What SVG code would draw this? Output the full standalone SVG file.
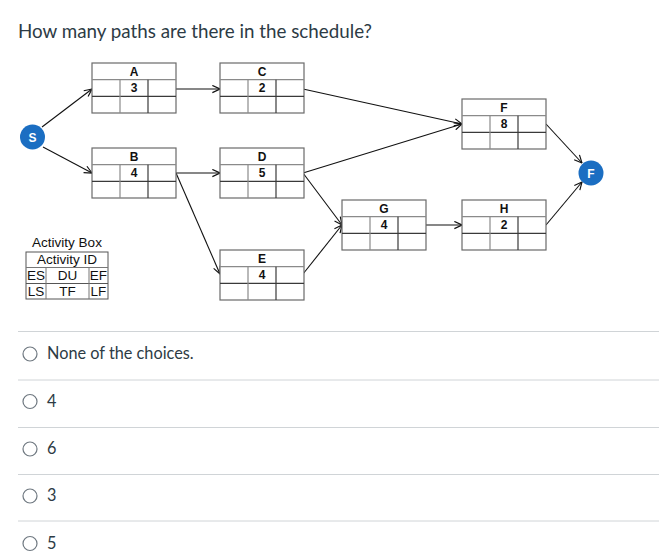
<svg xmlns="http://www.w3.org/2000/svg" xmlns:xlink="http://www.w3.org/1999/xlink" width="659" height="556" viewBox="0 0 659 556">
<style>
.q{font-family:Lato,"Open Sans","Liberation Sans",sans-serif;fill:#2d3b45}
.bx{font-family:"Liberation Sans",Arial,sans-serif;font-weight:bold;font-size:12px;fill:#111;text-anchor:middle}
.lg{font-family:"Liberation Sans",Arial,sans-serif;font-size:13.5px;fill:#111;text-anchor:middle}
.fr{fill:#fff;stroke:#6a6a6a;stroke-width:1.2}
.gl{stroke:#3a3a3a;stroke-width:1.2}
.gg{stroke:#8a8a8a;stroke-width:1.2}
.cn{stroke:#111;stroke-width:1.1;fill:none;marker-end:url(#ah)}
.sep{stroke:#d0d4d7;stroke-width:1}
.rd{fill:#fff;stroke:#6f7880;stroke-width:1.2}
.ct{font-family:"Liberation Sans",Arial,sans-serif;font-weight:bold;font-size:12px;fill:#fff;text-anchor:middle}
</style>
<defs>
<marker id="ah" viewBox="0 0 10 10" refX="9.5" refY="5" markerWidth="9" markerHeight="9" markerUnits="userSpaceOnUse" orient="auto">
<path d="M1,1 L9.5,5 L1,9" fill="none" stroke="#111" stroke-width="1.3"/>
</marker>
<g id="grid">
<rect class="fr" x="0" y="0" width="84" height="50"/>
<line class="gg" x1="0" y1="16.7" x2="84" y2="16.7"/>
<line class="gl" x1="0" y1="33.3" x2="84" y2="33.3"/>
<line class="gg" x1="28" y1="16.7" x2="28" y2="50"/>
<line class="gl" x1="56" y1="16.7" x2="56" y2="50"/>
</g>
</defs>
<rect width="659" height="556" fill="#fff"/>
<text class="q" x="18" y="38" font-size="18.8">How many paths are there in the schedule?</text>

<g id="connectors">
<line class="cn" x1="42" y1="127" x2="92" y2="89"/>
<line class="cn" x1="43" y1="147" x2="92" y2="173"/>
<line class="cn" x1="176" y1="89" x2="220" y2="89"/>
<line class="cn" x1="176" y1="173" x2="220" y2="173"/>
<line class="cn" x1="176" y1="173" x2="220" y2="274"/>
<line class="cn" x1="303" y1="89" x2="462" y2="124"/>
<line class="cn" x1="303" y1="173" x2="462" y2="124"/>
<line class="cn" x1="303" y1="173" x2="342" y2="225"/>
<line class="cn" x1="303" y1="274" x2="342" y2="225"/>
<line class="cn" x1="426" y1="225" x2="462" y2="225"/>
<line class="cn" x1="546" y1="124" x2="582" y2="163"/>
<line class="cn" x1="546" y1="225" x2="582" y2="182"/>
</g>

<g id="start"><circle cx="32.5" cy="137" r="12.5" fill="#1b6ec2"/><text class="ct" x="32.5" y="141.5">S</text></g>
<g id="finish"><circle cx="591" cy="173" r="12.5" fill="#1b6ec2"/><text class="ct" x="591" y="177.5">F</text></g>

<g id="A"><use xlink:href="#grid" x="92" y="63"/><text class="bx" x="134" y="75.8">A</text><text class="bx" x="134" y="92.3">3</text></g>
<g id="B"><use xlink:href="#grid" x="92" y="148"/><text class="bx" x="134" y="160.8">B</text><text class="bx" x="134" y="177.3">4</text></g>
<g id="C"><use xlink:href="#grid" x="220" y="63"/><text class="bx" x="262" y="75.8">C</text><text class="bx" x="262" y="92.3">2</text></g>
<g id="D"><use xlink:href="#grid" x="220" y="148"/><text class="bx" x="262" y="160.8">D</text><text class="bx" x="262" y="177.3">5</text></g>
<g id="E"><use xlink:href="#grid" x="220" y="250"/><text class="bx" x="262" y="262.8">E</text><text class="bx" x="262" y="279.3">4</text></g>
<g id="G"><use xlink:href="#grid" x="342" y="200"/><text class="bx" x="384" y="212.8">G</text><text class="bx" x="384" y="229.3">4</text></g>
<g id="F"><use xlink:href="#grid" x="462" y="99"/><text class="bx" x="504" y="111.8">F</text><text class="bx" x="504" y="128.3">8</text></g>
<g id="H"><use xlink:href="#grid" x="462" y="200"/><text class="bx" x="504" y="212.8">H</text><text class="bx" x="504" y="229.3">2</text></g>

<g id="legend">
<text class="lg" x="67" y="247">Activity Box</text>
<rect x="26" y="252" width="82" height="47" fill="#fff" stroke="#555" stroke-width="1"/>
<line x1="26" y1="267.5" x2="108" y2="267.5" stroke="#777" stroke-width="1"/>
<line x1="26" y1="283.5" x2="108" y2="283.5" stroke="#555" stroke-width="1"/>
<line x1="46" y1="267.5" x2="46" y2="299" stroke="#777" stroke-width="1"/>
<line x1="89" y1="267.5" x2="89" y2="299" stroke="#777" stroke-width="1"/>
<text class="lg" x="67" y="264">Activity ID</text>
<text class="lg" x="36" y="280">ES</text><text class="lg" x="67.5" y="280">DU</text><text class="lg" x="98.5" y="280">EF</text>
<text class="lg" x="36" y="296">LS</text><text class="lg" x="67.5" y="296">TF</text><text class="lg" x="98.5" y="296">LF</text>
</g>

<g id="choices">
<line class="sep" x1="18" y1="331.5" x2="659" y2="331.5"/>
<line class="sep" x1="18" y1="380" x2="659" y2="380"/>
<line class="sep" x1="18" y1="427.5" x2="659" y2="427.5"/>
<line class="sep" x1="18" y1="474.5" x2="659" y2="474.5"/>
<line class="sep" x1="18" y1="521" x2="659" y2="521"/>
<circle class="rd" cx="30" cy="354" r="7"/><text class="q" x="47" y="359" font-size="16.3">None of the choices.</text>
<circle class="rd" cx="30" cy="401.5" r="7"/><text class="q" x="47" y="407" font-size="16.3">4</text>
<circle class="rd" cx="30" cy="449" r="7"/><text class="q" x="47" y="454" font-size="16.3">6</text>
<circle class="rd" cx="30" cy="496" r="7"/><text class="q" x="47" y="501" font-size="16.3">3</text>
<circle class="rd" cx="30" cy="543.5" r="7"/><text class="q" x="47" y="549" font-size="16.3">5</text>
</g>
</svg>
